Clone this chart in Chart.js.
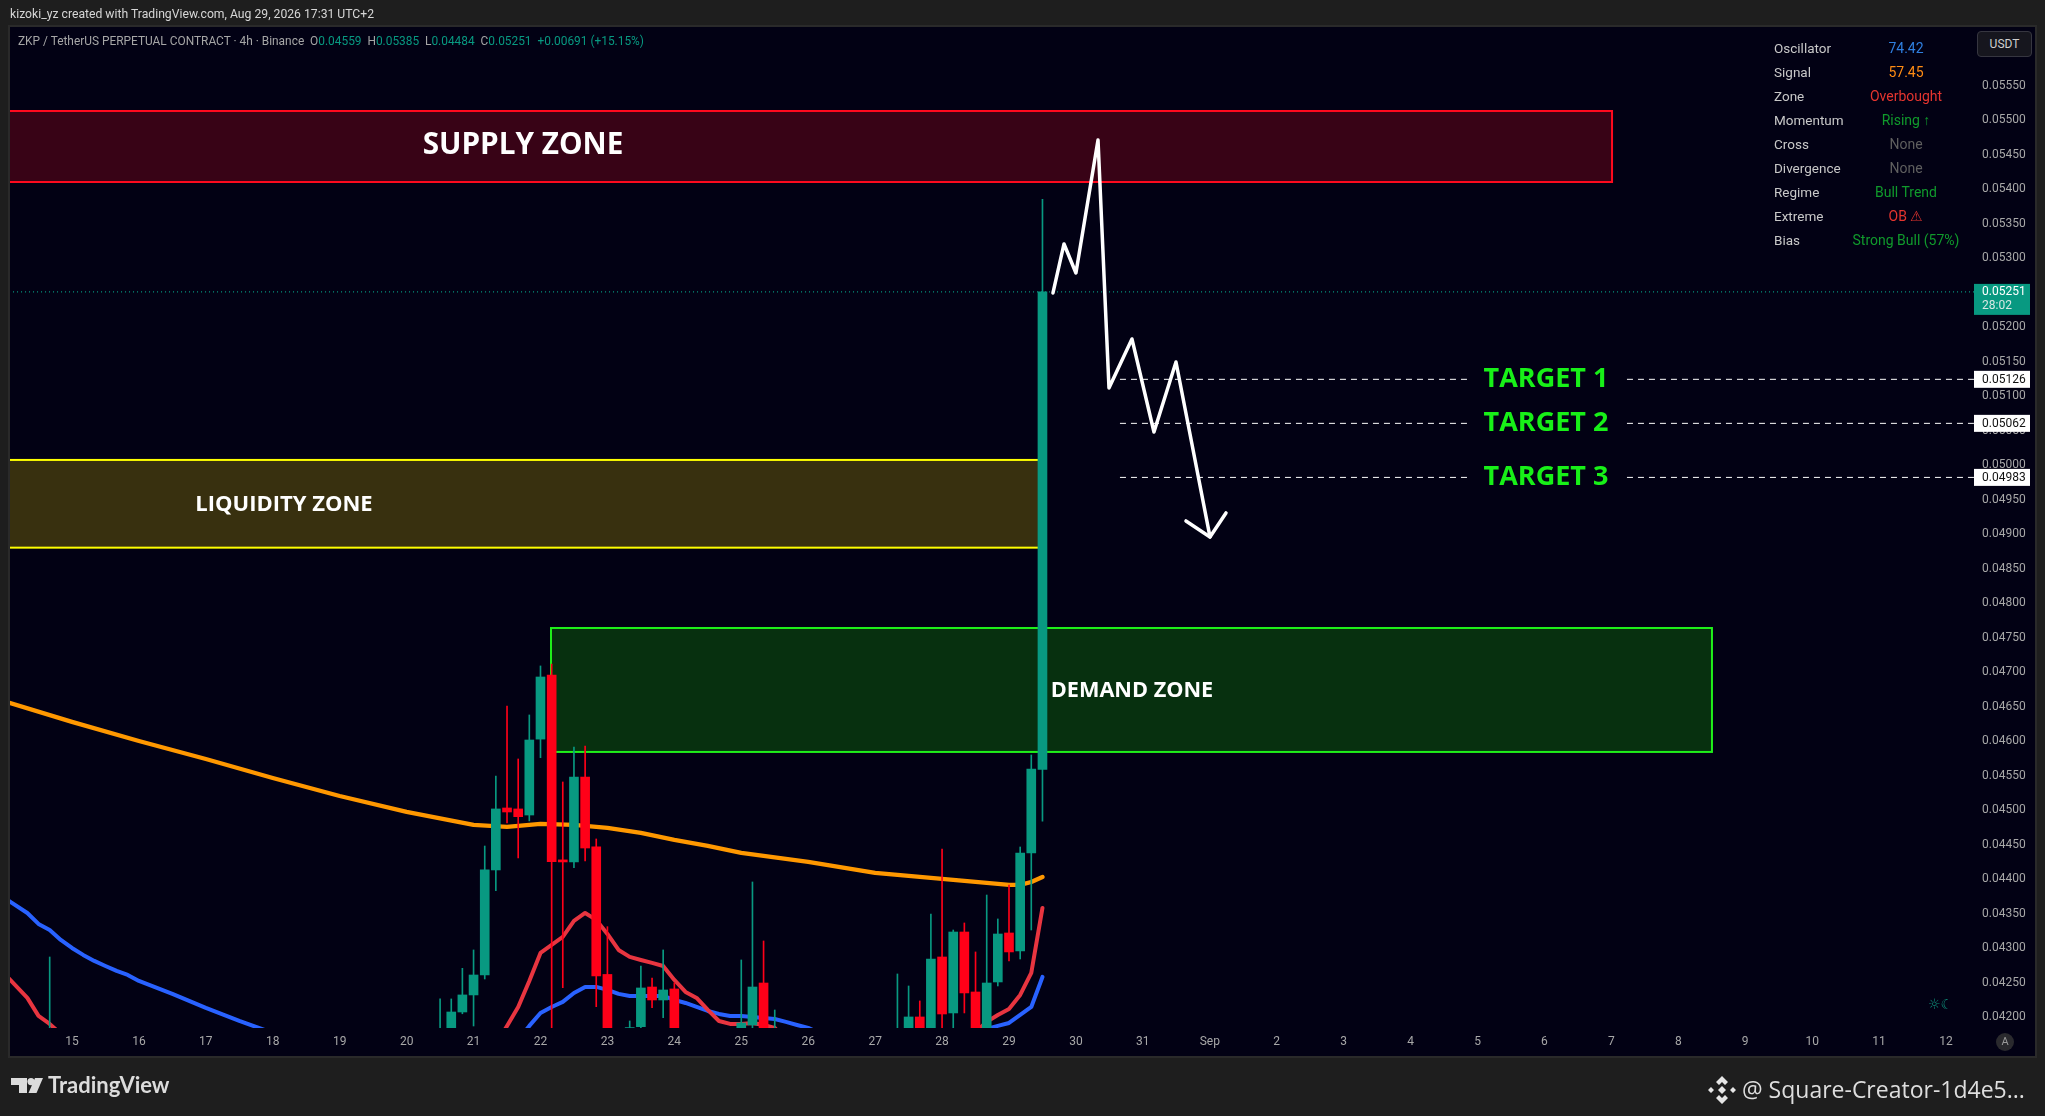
<!DOCTYPE html>
<html>
<head>
<meta charset="utf-8">
<title>ZKP / TetherUS 4h</title>
<script src="https://cdn.jsdelivr.net/npm/chart.js@4/dist/chart.umd.min.js"></script>
<style>
    html, body { margin: 0; padding: 0; background: #1e1e1e; overflow: hidden; }
    #wrap { position: relative; width: 2045px; height: 1116px; font-family: Roboto, sans-serif; }
    #priceChart { position: absolute; left: 0; top: 0; }
    .abs { position: absolute; white-space: pre; }
    #credit { left: 10px; top: 7px; font-size: 12.2px; color: #d6d6d6; }
    #legend { left: 18px; top: 34px; font-size: 11.9px; color: #a6a6a6; }
    #legend b { font-weight: 400; color: #089981; }
    #usdt { left: 1977px; top: 31px; width: 53px; height: 24px; line-height: 24px; text-align: center; font-size: 12px; color: #d0d0d0; background: #16161e; border: 1px solid #363640; border-radius: 4px; }
    .statLabel { left: 1774px; font-size: 13.5px; color: #c8c8c8; line-height: 20px; }
    .statValue { left: 1806px; width: 200px; text-align: center; font-size: 14px; line-height: 20px; }
    #tvName { left: 48px; top: 1071px; font-family: Lato, sans-serif; font-weight: 700; font-size: 22px; color: #dcdcdc; }
    #square { left: 1742px; top: 1073px; font-family: "Open Sans", sans-serif; font-size: 23px; color: #dedede; }
    #sunMoon { left: 1928px; top: 996px; font-family: "DejaVu Sans", sans-serif; font-size: 14px; color: #0f8f7a; }
    #autoBtn { left: 1996px; top: 1033px; width: 18px; height: 18px; line-height: 18px; border-radius: 9px; text-align: center; background: #2a2a2e; color: #9a9a9a; font-size: 11px; }
</style>
</head>
<body>
<div id="wrap">
    <canvas id="priceChart" width="2045" height="1116"></canvas>
    <div class="abs" id="credit">kizoki_yz created with TradingView.com, Aug 29, 2026 17:31 UTC+2</div>
    <div class="abs" id="legend">ZKP / TetherUS PERPETUAL CONTRACT · 4h · Binance  O<b>0.04559</b>  H<b>0.05385</b>  L<b>0.04484</b>  C<b>0.05251</b>  <b>+0.00691 (+15.15%)</b></div>
    <div class="abs" id="usdt">USDT</div>
    <div id="stats"></div>
    <svg class="abs" style="left:11px;top:1077px" width="34" height="17" viewBox="0 0 34 17">
        <path d="M0 1H16V16H8V8H0Z" fill="#dcdcdc"/><circle cx="20" cy="4.6" r="3.6" fill="#dcdcdc"/><path d="M24 1H32L25.5 16H17.5Z" fill="#dcdcdc"/>
    </svg>
    <div class="abs" id="tvName">TradingView</div>
    <svg class="abs" style="left:1708px;top:1076px" width="28" height="28" viewBox="0 0 28 28">
        <path d="M14 0L20 6L17 9L14 6L11 9L8 6ZM14 28L8 22L11 19L14 22L17 19L20 22ZM0 14L3 11L6 14L3 17ZM22 14L25 11L28 14L25 17ZM14 10L18 14L14 18L10 14Z" fill="#e6e6e6"/>
    </svg>
    <div class="abs" id="square">@ Square-Creator-1d4e5...</div>
    <div class="abs" id="sunMoon">☼☾</div>
    <div class="abs" id="autoBtn">A</div>
</div>

<script>
// --- DATA ---
const dayTicks = [15, 16, 17, 18, 19, 20, 21, 22, 23, 24, 25, 26, 27, 28, 29, 30, 31, 32, 33, 34, 35, 36, 37, 38, 39, 40, 41, 42, 43];
const dayLabels = ['15', '16', '17', '18', '19', '20', '21', '22', '23', '24', '25', '26', '27', '28', '29', '30', '31', 'Sep', '2', '3', '4', '5', '6', '7', '8', '9', '10', '11', '12'];
const priceTicks = [0.042, 0.0425, 0.043, 0.0435, 0.044, 0.0445, 0.045, 0.0455, 0.046, 0.0465, 0.047, 0.0475, 0.048, 0.0485, 0.049, 0.0495, 0.05, 0.0505, 0.051, 0.0515, 0.052, 0.0525, 0.053, 0.0535, 0.054, 0.0545, 0.055, 0.0555];

const candleDays = [14.667, 20.5, 20.667, 20.833, 21, 21.167, 21.333, 21.5, 21.667, 21.833, 22, 22.167, 22.333, 22.5, 22.667, 22.833, 23, 23.333, 23.5, 23.667, 23.833, 24, 25, 25.167, 25.333, 25.5, 27.333, 27.5, 27.667, 27.833, 28, 28.167, 28.333, 28.5, 28.667, 28.833, 29, 29.167, 29.333, 29.5];
const opens = [0.0414, 0.0414, 0.0416, 0.042076, 0.042323, 0.042612, 0.044134, 0.045032, 0.045018, 0.04493, 0.04603, 0.046959, 0.04428, 0.04425, 0.04548, 0.04447, 0.04262, 0.0416, 0.041863, 0.042438, 0.04225, 0.04241, 0.0415, 0.041888, 0.042496, 0.0414, 0.0414, 0.0415, 0.042004, 0.0415, 0.042873, 0.042062, 0.043235, 0.042366, 0.0415, 0.042511, 0.043221, 0.04296, 0.04438, 0.04559];
const closes = [0.0416, 0.0416, 0.042076, 0.042323, 0.042612, 0.044134, 0.045018, 0.044974, 0.044906, 0.046017, 0.04693, 0.044254, 0.04425, 0.045481, 0.044452, 0.042598, 0.0415, 0.04185, 0.042424, 0.04225, 0.042395, 0.0415, 0.041917, 0.042438, 0.0415, 0.0416, 0.0416, 0.042004, 0.0415, 0.042844, 0.042047, 0.043235, 0.042352, 0.0415, 0.042496, 0.043206, 0.042946, 0.04438, 0.045597, 0.05251];
const highs = [0.042873, 0.042265, 0.042265, 0.042709, 0.042975, 0.044481, 0.045496, 0.04651, 0.045742, 0.04638, 0.04709, 0.047118, 0.045409, 0.045916, 0.04593, 0.044583, 0.043312, 0.041946, 0.042743, 0.042569, 0.042975, 0.0425, 0.04283, 0.04396, 0.043105, 0.042105, 0.042627, 0.042453, 0.042236, 0.043496, 0.044438, 0.043264, 0.043366, 0.042946, 0.043771, 0.043424, 0.043916, 0.044467, 0.0458, 0.05385];
const lows = [0.0413, 0.0413, 0.0415, 0.04205, 0.041873, 0.042554, 0.043834, 0.044815, 0.044308, 0.044844, 0.045761, 0.0417, 0.042428, 0.044167, 0.044264, 0.042153, 0.0414, 0.0416, 0.0417, 0.042139, 0.041994, 0.0414, 0.0414, 0.0417, 0.0414, 0.0413, 0.0413, 0.0414, 0.0414, 0.0414, 0.0414, 0.0417, 0.042062, 0.0414, 0.0414, 0.042453, 0.042815, 0.042844, 0.043264, 0.04484];

const orangeDays = [14, 15, 16, 17, 18, 19, 20, 21, 21.5, 22, 22.5, 23, 23.5, 24, 24.5, 25, 26, 27, 27.5, 28, 28.5, 29, 29.167, 29.333, 29.5];
const orangeValues = [0.046575, 0.046279, 0.046003, 0.045742, 0.045467, 0.045206, 0.044975, 0.044786, 0.044757, 0.044801, 0.044786, 0.044743, 0.04467, 0.044569, 0.044482, 0.044381, 0.04425, 0.044091, 0.044047, 0.044004, 0.04396, 0.043917, 0.043917, 0.04396, 0.044033];

const redDays = [14, 14.333, 14.5, 14.667, 14.833, 18, 21.333, 21.5, 21.667, 21.833, 22, 22.167, 22.333, 22.5, 22.667, 22.833, 23, 23.167, 23.333, 23.5, 23.667, 23.833, 24, 24.167, 24.333, 24.5, 24.667, 24.833, 25, 25.167, 25.333, 25.5, 25.667, 27, 28.5, 28.667, 28.833, 29, 29.167, 29.333, 29.5];
const redValues = [0.04262, 0.04228, 0.042019, 0.041903, 0.041758, null, 0.041599, 0.041874, 0.042149, 0.042526, 0.042932, 0.043048, 0.043163, 0.043395, 0.043511, 0.04341, 0.043207, 0.042975, 0.042874, 0.04283, 0.042787, 0.042743, 0.04254, 0.042367, 0.04228, 0.042106, 0.041946, 0.041903, 0.041903, 0.041917, 0.041888, 0.041845, 0.041671, null, 0.041787, 0.041932, 0.042033, 0.04212, 0.042323, 0.042642, 0.043584];

const blueDays = [14, 14.333, 14.5, 14.667, 14.833, 15, 15.167, 15.333, 15.5, 15.667, 15.833, 16, 16.5, 17, 17.5, 17.833, 18, 20, 21.667, 21.833, 22, 22.167, 22.333, 22.5, 22.667, 22.833, 23, 23.167, 23.333, 23.5, 23.667, 23.833, 24, 24.167, 24.333, 24.5, 24.667, 24.833, 25, 25.167, 25.333, 25.5, 25.667, 25.833, 26, 26.167, 27, 28.5, 28.667, 28.833, 29, 29.167, 29.333, 29.5];
const blueValues = [0.04372, 0.043511, 0.043352, 0.043265, 0.04312, 0.043004, 0.042903, 0.042816, 0.042743, 0.042671, 0.042613, 0.042526, 0.042338, 0.042135, 0.041946, 0.041831, 0.041773, null, 0.041671, 0.041874, 0.042062, 0.042149, 0.042222, 0.042352, 0.042439, 0.042439, 0.042396, 0.042338, 0.042309, 0.042309, 0.042309, 0.042309, 0.042251, 0.042207, 0.042149, 0.042091, 0.042048, 0.042019, 0.042019, 0.042004, 0.04199, 0.041975, 0.041932, 0.041888, 0.041845, 0.041773, null, 0.041773, 0.041831, 0.041874, 0.041917, 0.042033, 0.042149, 0.042584];

// hand drawn path and arrow head
const pathDays = [29.657, 29.822, 30, 30.33, 30.494, 30.837, 31.166, 31.495, 32.003];
const pathPrices = [0.052494, 0.053204, 0.052784, 0.054711, 0.051118, 0.051828, 0.05048, 0.051494, 0.048959];
const arrowDays = [31.644, 32.003, 32.242];
const arrowPrices = [0.049191, 0.048959, 0.049307];

const lastPrice = 0.05251;
const targetLevels = [0.051243, 0.050605, 0.049822];
const targetTags = ['0.05126', '0.05062', '0.04983'];
const targetNames = ['TARGET 1', 'TARGET 2', 'TARGET 3'];

const zoneNames = ['SUPPLY ZONE', 'LIQUIDITY ZONE', 'DEMAND ZONE'];
const zoneStartDays = [13, 13, 22.157];
const zoneEndDays = [38.01, 29.5, 39.503];
const zoneTops = [0.055131, 0.050075, 0.04764];
const zoneBottoms = [0.054102, 0.048804, 0.045844];

const statNames = ['Oscillator', 'Signal', 'Zone', 'Momentum', 'Cross', 'Divergence', 'Regime', 'Extreme', 'Bias'];
const statValues = ['74.42', '57.45', 'Overbought', 'Rising ↑', 'None', 'None', 'Bull Trend', 'OB ⚠', 'Strong Bull (57%)'];

// --- STYLES ---
const upColor = '#089981';
const downColor = '#ff0018';
const paneColor = '#020114';
const statColors = ['#2f7fe0', '#ff8c14', '#e5352f', '#109a2c', '#5f5f5f', '#5f5f5f', '#109a2c', '#e5352f', '#109a2c'];
const zoneFills = ['#380316', '#38300f', '#07300f'];
const zoneBorders = ['#ff0a1e', '#ffff00', '#1ff01a'];

// --- SIDE TABLE ---
const statsBox = document.getElementById('stats');
statNames.forEach((name, i) => {
    const top = 38 + i * 24;
    statsBox.insertAdjacentHTML('beforeend', `<div class="abs statLabel" style="top:${top}px">${name}</div>`);
    statsBox.insertAdjacentHTML('beforeend', `<div class="abs statValue" style="top:${top}px;color:${statColors[i]}">${statValues[i]}</div>`);
});

// --- PLUGINS ---
const paneBackground = {
    id: 'paneBackground',
    beforeDraw(chart) {
        const { ctx } = chart;
        ctx.save();
        ctx.fillStyle = '#2a2a2a';
        ctx.fillRect(8, 25, 2029, 1033);
        ctx.fillStyle = paneColor;
        ctx.fillRect(10, 27, 2025, 1029);
        ctx.restore();
    }
};

const zones = {
    id: 'zones',
    beforeDatasetsDraw(chart) {
        const { ctx, chartArea, scales: { x, y } } = chart;
        ctx.save();
        ctx.beginPath();
        ctx.rect(chartArea.left, chartArea.top, chartArea.width, chartArea.height);
        ctx.clip();
        zoneNames.forEach((name, i) => {
            const left = x.getPixelForValue(zoneStartDays[i]);
            const right = x.getPixelForValue(zoneEndDays[i]);
            const top = y.getPixelForValue(zoneTops[i]);
            const bottom = y.getPixelForValue(zoneBottoms[i]);
            ctx.fillStyle = zoneFills[i];
            ctx.fillRect(left, top, right - left, bottom - top);
            ctx.strokeStyle = zoneBorders[i];
            ctx.lineWidth = 2;
            ctx.strokeRect(left, top, right - left, bottom - top);
        });
        ctx.restore();
    }
};

const annotations = {
    id: 'annotations',
    afterDraw(chart) {
        const { ctx, scales: { y } } = chart;
        ctx.save();
        ctx.textBaseline = 'middle';

        // zone captions
        ctx.fillStyle = '#ffffff';
        ctx.textAlign = 'center';
        ctx.font = "bold 29.7px 'Open Sans'";
        ctx.fillText(zoneNames[0], 523, 146);
        ctx.font = "bold 22px 'Open Sans'";
        ctx.fillText(zoneNames[1], 284, 504.5);
        ctx.font = "bold 21.7px 'Open Sans'";
        ctx.fillText(zoneNames[2], 1132, 691);

        // target captions
        ctx.fillStyle = '#18f018';
        ctx.font = "bold 27px 'Open Sans'";
        targetNames.forEach((name, i) => {
            ctx.fillText(name, 1546, y.getPixelForValue(targetLevels[i]));
        });

        // price tags on the axis
        ctx.textAlign = 'left';
        ctx.font = '12px Roboto';
        targetLevels.forEach((level, i) => {
            const py = y.getPixelForValue(level);
            ctx.fillStyle = '#ffffff';
            ctx.fillRect(1974, py - 8.5, 56, 17);
            ctx.fillStyle = '#111111';
            ctx.fillText(targetTags[i], 1982, py + 0.5);
        });
        const lastY = y.getPixelForValue(lastPrice);
        ctx.fillStyle = upColor;
        ctx.fillRect(1974, lastY - 8, 56, 31);
        ctx.fillStyle = '#ffffff';
        ctx.fillText(lastPrice.toFixed(5), 1982, lastY + 0.5);
        ctx.fillStyle = '#d8e8e4';
        ctx.fillText('28:02', 1982, lastY + 14.5);
        ctx.restore();
    }
};

// --- DATASETS ---
const pointsOf = (days, values) => days.map((d, i) => ({ x: d, y: values[i] }));
const candleColors = candleDays.map((d, i) => (closes[i] >= opens[i] ? upColor : downColor));

function lineSet(days, values, color, width, order, extra) {
    return Object.assign({
        type: 'line',
        data: pointsOf(days, values),
        borderColor: color,
        borderWidth: width,
        pointRadius: 0,
        tension: 0,
        spanGaps: false,
        borderJoinStyle: 'round',
        borderCapStyle: 'round',
        order
    }, extra || {});
}

const targetSets = targetLevels.map(level => lineSet([30.658, 35.887, 35.9, 38.233, 43.43], [level, level, null, level, level], '#ffffff', 1, 4, { borderDash: [6, 5], borderCapStyle: 'butt' }));

const datasets = [
    lineSet([14, 43.43], [lastPrice, lastPrice], upColor, 1.2, 5, { borderDash: [1, 3], borderCapStyle: 'butt' }),
    lineSet(orangeDays, orangeValues, '#ff9800', 4.3, 4),
    lineSet(redDays, redValues, '#e83540', 4, 4),
    lineSet(blueDays, blueValues, '#2962ff', 4, 4),
    ...targetSets,
    {
        type: 'bar',
        data: candleDays.map((d, i) => ({ x: d, y: [lows[i], highs[i]] })),
        backgroundColor: candleColors,
        barThickness: 1,
        grouped: false,
        order: 3
    },
    {
        type: 'bar',
        data: candleDays.map((d, i) => ({ x: d, y: [opens[i], closes[i]] })),
        backgroundColor: candleColors,
        barThickness: 9,
        grouped: false,
        order: 2
    },
    lineSet(pathDays, pathPrices, '#ffffff', 3.5, 1),
    lineSet(arrowDays, arrowPrices, '#ffffff', 3.5, 1)
];

// --- CHART ---
const priceChart = new Chart(document.getElementById('priceChart').getContext('2d'), {
    data: { datasets },
    plugins: [paneBackground, zones, annotations],
    options: {
        responsive: false,
        animation: false,
        devicePixelRatio: 1,
        layout: { padding: { left: 10, right: 10, top: 27, bottom: 60 } },
        plugins: { legend: { display: false }, tooltip: { enabled: false } },
        scales: {
            x: {
                type: 'linear',
                offset: false, // bar charts turn this on by default
                min: 14.074,
                max: 43.433,
                grid: { display: false, drawTicks: false },
                border: { display: false },
                afterBuildTicks: axis => { axis.ticks = dayTicks.map(value => ({ value })); },
                afterFit: axis => { axis.height = 28; },
                ticks: {
                    autoSkip: false,
                    maxRotation: 0,
                    padding: 7,
                    color: '#a8a8a8',
                    font: { family: 'Roboto', size: 12 },
                    callback: value => dayLabels[dayTicks.indexOf(value)]
                }
            },
            y: {
                type: 'linear',
                position: 'right',
                min: 0.041844,
                max: 0.056348,
                grid: { display: false, drawTicks: false },
                border: { display: false },
                afterBuildTicks: axis => { axis.ticks = priceTicks.map(value => ({ value })); },
                afterFit: axis => { axis.width = 60; },
                ticks: {
                    autoSkip: false,
                    padding: 7,
                    color: '#a8a8a8',
                    font: { family: 'Roboto', size: 12 },
                    callback: value => value.toFixed(5)
                }
            }
        }
    }
});
</script>
</body>
</html>
